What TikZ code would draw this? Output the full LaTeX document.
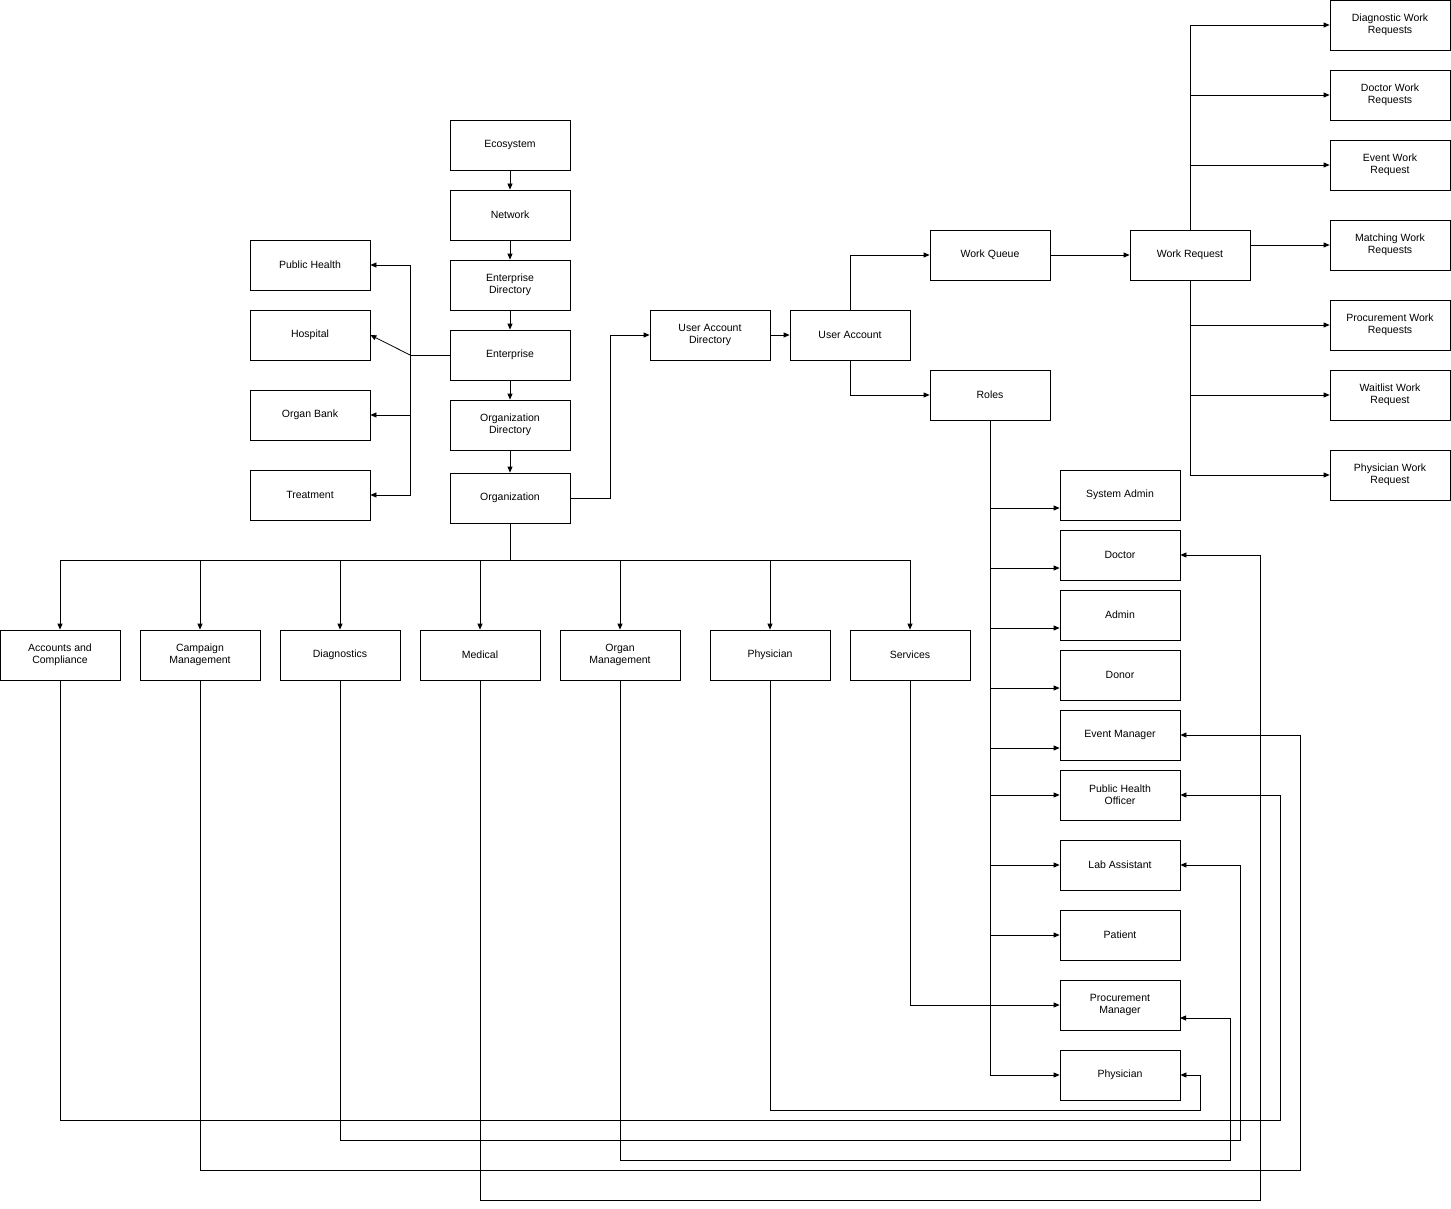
\documentclass[tikz,border=0pt]{standalone}
\usepackage{fontspec}
\setmainfont{Liberation Sans}
\usetikzlibrary{arrows.meta}
\begin{document}
\begin{tikzpicture}[x=1pt,y=-1pt,
 box/.style={draw,line width=0.8pt,minimum width=120pt,minimum height=50pt,align=center,font=\fontsize{10.5}{12}\selectfont,inner sep=1pt},
 ar/.style={-{Triangle[length=6pt,width=5pt]},line width=0.8pt},
 ln/.style={line width=0.8pt}]
\useasboundingbox (0,0) rectangle (1451,1209);
\node[box] (eco) at (510,145) {Ecosystem};
\node[box] (net) at (510,215) {Network};
\node[box] (ed) at (510,285) {Enterprise\\Directory};
\node[box] (ent) at (510,355) {Enterprise};
\node[box] (od) at (510,425) {Organization\\Directory};
\node[box] (org) at (510,498) {Organization};
\node[box] (ph) at (310,265) {Public Health};
\node[box] (hos) at (310,335) {Hospital};
\node[box] (ob) at (310,415) {Organ Bank};
\node[box] (tr) at (310,495) {Treatment};
\node[box] (uad) at (710,335) {User Account\\Directory};
\node[box] (ua) at (850,335) {User Account};
\node[box] (wq) at (990,255) {Work Queue};
\node[box] (ro) at (990,395) {Roles};
\node[box] (wr) at (1190,255) {Work Request};
\node[box] (r1) at (1390,25) {Diagnostic Work\\Requests};
\node[box] (r2) at (1390,95) {Doctor Work\\Requests};
\node[box] (r3) at (1390,165) {Event Work\\Request};
\node[box] (r4) at (1390,245) {Matching Work\\Requests};
\node[box] (r5) at (1390,325) {Procurement Work\\Requests};
\node[box] (r6) at (1390,395) {Waitlist Work\\Request};
\node[box] (r7) at (1390,475) {Physician Work\\Request};
\node[box] (sa) at (1120,495) {System Admin};
\node[box] (doc) at (1120,555) {Doctor};
\node[box] (adm) at (1120,615) {Admin};
\node[box] (don) at (1120,675) {Donor};
\node[box] (em) at (1120,735) {Event Manager};
\node[box] (pho) at (1120,795) {Public Health\\Officer};
\node[box] (la) at (1120,865) {Lab Assistant};
\node[box] (pat) at (1120,935) {Patient};
\node[box] (pm) at (1120,1005) {Procurement\\Manager};
\node[box] (phy) at (1120,1075) {Physician};
\node[box] (o1) at (60,655) {Accounts and\\Compliance};
\node[box] (o2) at (200,655) {Campaign\\Management};
\node[box] (o3) at (340,655) {Diagnostics};
\node[box] (o4) at (480,655) {Medical};
\node[box] (o5) at (620,655) {Organ\\Management};
\node[box] (o6) at (770,655) {Physician};
\node[box] (o7) at (910,655) {Services};
\draw[ar] (eco) -- (net);
\draw[ar] (net) -- (ed);
\draw[ar] (ed) -- (ent);
\draw[ar] (ent) -- (od);
\draw[ar] (od) -- (org);
\draw[ln] (ent.west) -- (410,355);
\draw[ar] (410,355) |- (ph.east);
\draw[ar] (410,355) -- (hos.east);
\draw[ar] (410,355) |- (ob.east);
\draw[ar] (410,355) |- (tr.east);
\draw[ar] (org.east) -- (610,498) |- (uad.west);
\draw[ar] (uad) -- (ua);
\draw[ar] (ua.north) |- (wq.west);
\draw[ar] (ua.south) |- (ro.west);
\draw[ar] (wq) -- (wr);
\draw[ar] (wr.north) |- (r1.west);
\draw[ar] (1190,230) |- (r2.west);
\draw[ar] (1190,230) |- (r3.west);
\draw[ar] (1250,245) -- (r4.west);
\draw[ar] (wr.south) |- (r5.west);
\draw[ar] (1190,280) |- (r6.west);
\draw[ar] (1190,280) |- (r7.west);
\draw[ln] (ro.south) -- (990,1075);
\foreach \n/\y in {sa/508,doc/568,adm/628,don/688,em/748,pho/795,la/865,pat/935,phy/1075}
  \draw[ar] (990,\y) -- (\n.west |- 0,\y);
\draw[ln] (org.south) -- (510,560);
\draw[ln] (60,560) -- (910,560);
\foreach \n/\x in {o1/60,o2/200,o3/340,o4/480,o5/620,o6/770,o7/910}
  \draw[ar] (\x,560) -- (\n.north);
\draw[ar] (o1.south) -- (60,1120) -- (1280,1120) |- (pho.east);
\draw[ar] (o2.south) -- (200,1170) -- (1300,1170) |- (em.east);
\draw[ar] (o3.south) -- (340,1140) -- (1240,1140) |- (la.east);
\draw[ar] (o4.south) -- (480,1200) -- (1260,1200) |- (doc.east);
\draw[ar] (o5.south) -- (620,1160) -- (1230,1160) |- (1180,1018);
\draw[ar] (o6.south) -- (770,1110) -- (1200,1110) |- (phy.east);
\draw[ar] (o7.south) |- (pm.west);
\end{tikzpicture}
\end{document}
